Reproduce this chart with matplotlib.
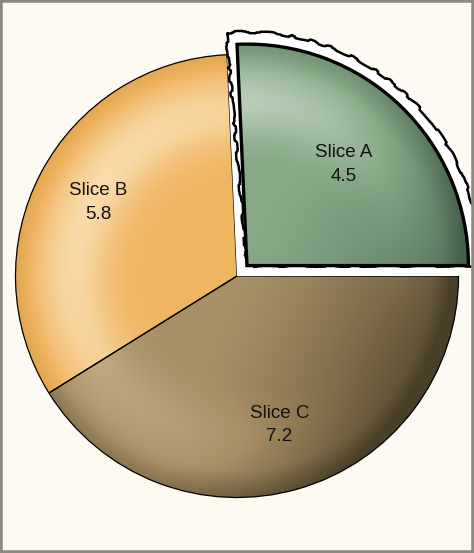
import numpy as np
import matplotlib.pyplot as plt
from matplotlib.patches import Wedge, Rectangle
from matplotlib.colors import to_rgb

labels = ["Slice A", "Slice B", "Slice C"]
values = [4.5, 5.8, 7.2]
explode = [0.065, 0, 0]
# light / mid / dark shades per slice
light = ["#d4e2d2", "#fbe1b8", "#c9b690"]
mid = ["#86a886", "#efb561", "#a89066"]
dark = ["#44604a", "#c8862e", "#4a3f28"]
label_dist = [0.63, 0.71, 0.70]

W, H = 474, 553
cx_px, cy_px, rad_px = 237, 276, 221.5

fig = plt.figure(figsize=(W / 100, H / 100), dpi=100)
fig.patch.set_facecolor("#fcfaf3")
ax = fig.add_axes([0, 0, 1, 1])
ax.set_facecolor("#fcfaf3")

wedges, texts = ax.pie(values, explode=explode, startangle=0,
                       labels=[f"{l}\n{v}" for l, v in zip(labels, values)],
                       wedgeprops=dict(facecolor="none", edgecolor="black", linewidth=0.9),
                       textprops=dict(ha="center", va="center", fontsize=13.5,
                                      family="Liberation Sans", color="#111111",
                                      linespacing=1.5))

ax.set_xlim(-cx_px / rad_px, (W - cx_px) / rad_px)
ax.set_ylim(-(H - cy_px) / rad_px, cy_px / rad_px)
ax.set_aspect("auto")
ax.axis("off")

# put labels a bit inside each slice, like the original
for wg, t, d in zip(wedges, texts, label_dist):
    th = np.radians((wg.theta1 + wg.theta2) / 2)
    t.set_position((wg.center[0] + d * wg.r * np.cos(th), wg.center[1] + d * wg.r * np.sin(th)))


def shade(wedge, i, zorder):
    c = np.array(wedge.center)
    r = wedge.r
    n = 500
    xs = np.linspace(c[0] - r, c[0] + r, n)
    ys = np.linspace(c[1] - r, c[1] + r, n)
    X, Y = np.meshgrid(xs, ys)
    dx, dy = (X - c[0]) / r, (Y - c[1]) / r
    rr = np.hypot(dx, dy)
    ang = np.degrees(np.arctan2(dy, dx))
    w = 0.5 * (1 + np.cos(np.radians(ang - 150)))
    h = np.exp(-((rr - 0.74) / 0.16) ** 2) * w
    p = dx * np.cos(np.radians(-25)) + dy * np.sin(np.radians(-25))
    dk = np.clip(p, 0, 1) ** 1.4 * 0.9
    rim = np.clip((rr - 0.88) / 0.12, 0, 1) * 0.35
    v = 0.85 * h - dk - rim
    L, M, D = (np.array(to_rgb(k)) for k in (light[i], mid[i], dark[i]))
    vp = np.clip(v, 0, 1)[..., None]
    vn = np.clip(-v, 0, 1)[..., None]
    img = M + vp * (L - M) + vn * (D - M)
    im = ax.imshow(np.clip(img, 0, 1), extent=(xs[0], xs[-1], ys[0], ys[-1]),
                   origin="lower", zorder=zorder, interpolation="bilinear")
    im.set_clip_path(wedge)


for i in (1, 2):
    shade(wedges[i], i, 0)
    wedges[i].set_zorder(1)

wa = wedges[0]
gap = Wedge((0, 0), 1, wa.theta1, wa.theta2, facecolor="white", edgecolor="none", zorder=2)
ax.add_patch(gap)
halo = Wedge(wa.center, wa.r * 1.055, wa.theta1, wa.theta2 + 2.5,
             facecolor="white", edgecolor="black", linewidth=1.8, zorder=3)
halo.set_sketch_params(scale=1.2, length=140, randomness=40)
ax.add_patch(halo)
shade(wa, 0, 4)
wa.set_zorder(5)
wa.set_linewidth(2.4)
for t in texts:
    t.set_zorder(6)

fig.add_artist(Rectangle((0, 0), 1, 1, transform=fig.transFigure, fill=False,
                         edgecolor="#8c8a80", linewidth=4, zorder=10))

fig.savefig("out.png", dpi=100, facecolor=fig.get_facecolor())
